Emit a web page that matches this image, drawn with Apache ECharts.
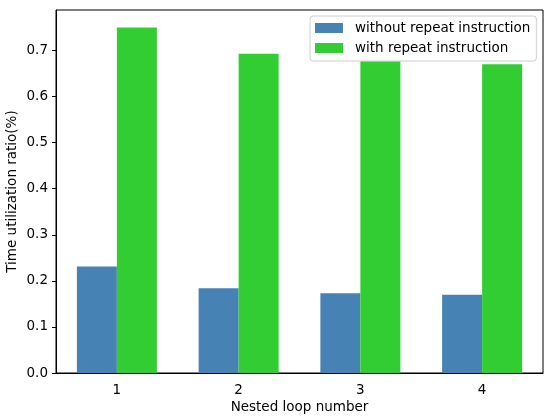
<!DOCTYPE html>
<html>
<head>
<meta charset="utf-8">
<script src="https://cdn.jsdelivr.net/npm/echarts@6/dist/echarts.min.js"></script>
<style>html,body{margin:0;padding:0;background:#fff;}#c{width:550px;height:417px;}</style>
</head>
<body>
<div id="c"></div>
<script>
var categories = ['1', '2', '3', '4'];
var withoutRepeat = [0.231, 0.184, 0.173, 0.170];
var withRepeat = [0.750, 0.693, 0.677, 0.670];
var yTicks = [0, 0.1, 0.2, 0.3, 0.4, 0.5, 0.6, 0.7];

var font = 'DejaVu Sans';
var fs = 13.5;
var chart = echarts.init(document.getElementById('c'), null, {renderer: 'canvas'});
chart.setOption({
  animation: false,
  backgroundColor: '#fff',
  textStyle: {fontFamily: font},
  grid: {left: 56, top: 10, right: 7, bottom: 44, containLabel: false, outerBoundsMode: 'none',
    show: true, borderColor: '#000', borderWidth: 1, backgroundColor: 'transparent'},
  legend: {
    orient: 'vertical', left: 310, top: 16,
    itemWidth: 28, itemHeight: 10, itemGap: 4,
    padding: [4, 6, 5, 5],
    backgroundColor: 'rgba(255,255,255,0.8)',
    borderColor: '#cccccc', borderWidth: 1, borderRadius: 3,
    icon: 'rect',
    textStyle: {fontFamily: font, fontSize: fs, color: '#000', lineHeight: 16, padding: [0, 0, 0, 7]},
    data: ['without repeat instruction', 'with repeat instruction']
  },
  xAxis: {
    type: 'category', data: categories,
    axisLine: {lineStyle: {color: '#000', width: 1}},
    axisTick: {alignWithLabel: true, length: 4, lineStyle: {color: '#000'}},
    axisLabel: {fontFamily: font, fontSize: fs, color: '#000', margin: 10},
    name: 'Nested loop number', nameLocation: 'middle', nameGap: 27, nameMoveOverlap: false,
    nameTextStyle: {fontFamily: font, fontSize: fs, color: '#000'},
    splitLine: {show: false}
  },
  yAxis: {
    type: 'value', min: 0, max: 0.788,
    axisLine: {show: true, lineStyle: {color: '#000', width: 1}},
    axisTick: {show: true, length: 4, lineStyle: {color: '#000'}, customValues: yTicks},
    axisLabel: {fontFamily: font, fontSize: fs, color: '#000', margin: 8, customValues: yTicks,
      formatter: function (v) { return v.toFixed(1); }},
    splitLine: {show: false},
    name: 'Time utilization ratio(%)', nameLocation: 'middle', nameGap: 37, nameRotate: 90,
    nameMoveOverlap: false,
    nameTextStyle: {fontFamily: font, fontSize: fs, color: '#000'}
  },
  series: [
    {name: 'without repeat instruction', type: 'bar', data: withoutRepeat, barWidth: 40, barGap: '0%',
      itemStyle: {color: '#4682B4'}},
    {name: 'with repeat instruction', type: 'bar', data: withRepeat, barWidth: 40, barGap: '0%',
      itemStyle: {color: '#32CD32'}}
  ]
});
</script>
</body>
</html>
